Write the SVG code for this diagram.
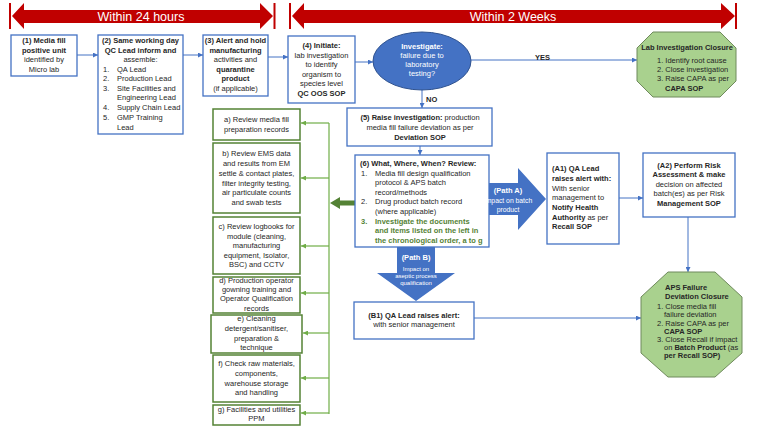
<svg xmlns="http://www.w3.org/2000/svg" width="768" height="433" viewBox="0 0 768 433">
<defs>
<style>
.bb{fill:#fff;stroke:#4472C4;stroke-width:1.3}
.gb{fill:#fff;stroke:#548235;stroke-width:1.5}
.oct{fill:#A9D18E;stroke:#6F8A5C;stroke-width:1}
text{font-family:"Liberation Sans",Arial,sans-serif;font-size:7.5px;fill:#262626}
.b{font-weight:bold}
.c{text-anchor:middle}
.w{fill:#fff}
.s{font-size:6px}
.g{fill:#548235;font-weight:bold}
.red{fill:#C00000}
.big{font-size:12.5px;fill:#fff}
.conn{stroke:#4472C4;stroke-width:1;fill:none;marker-end:url(#ab)}
.gconn{stroke:#70AD47;stroke-width:1.2;fill:none;marker-end:url(#ag)}
.blk{fill:#4472C4}
</style>
<marker id="ab" viewBox="0 0 6 6" refX="6" refY="3" markerWidth="5" markerHeight="5" markerUnits="userSpaceOnUse" orient="auto"><path d="M0,0 L6,3 L0,6 z" fill="#4472C4"/></marker>
<marker id="ag" viewBox="0 0 6 6" refX="6" refY="3" markerWidth="5" markerHeight="5" markerUnits="userSpaceOnUse" orient="auto"><path d="M0,0 L6,3 L0,6 z" fill="#70AD47"/></marker>
</defs>
<rect width="768" height="433" fill="#fff"/>

<g id="timeline24">
<rect class="red" x="9" y="3" width="2" height="26"/>
<rect class="red" x="273.5" y="3" width="2" height="26"/>
<polygon class="red" points="12,16 24,3 24,10 260,10 260,3 273,16 260,29 260,23 24,23 24,29"/>
<text class="big c" x="141" y="20.5">Within 24 hours</text>
</g>
<g id="timeline2w">
<rect class="red" x="289" y="3" width="2" height="26"/>
<rect class="red" x="735" y="3" width="2" height="26"/>
<polygon class="red" points="292,16 304,3 304,10 721,10 721,3 735,16 721,29 721,23 304,23 304,29"/>
<text class="big c" x="513" y="20.5">Within 2 Weeks</text>
</g>

<g id="connectors">
<line class="conn" x1="77" y1="55" x2="98" y2="55"/>
<line class="conn" x1="183" y1="55" x2="203" y2="55"/>
<line class="conn" x1="268" y1="57" x2="288" y2="57"/>
<line class="conn" x1="355" y1="62" x2="373" y2="62"/>
<line class="conn" x1="471" y1="60" x2="637" y2="60"/>
<text class="b" x="535" y="60">YES</text>
<line class="conn" x1="422" y1="90" x2="422" y2="108"/>
<text class="b" x="426" y="102">NO</text>
<line class="conn" x1="420" y1="146" x2="420" y2="155"/>
<line class="conn" x1="619" y1="198" x2="643" y2="198"/>
<line class="conn" x1="688" y1="217" x2="688" y2="272"/>
<line class="conn" x1="474" y1="318" x2="641" y2="318"/>
<line stroke="#70AD47" stroke-width="1.2" x1="329" y1="123" x2="329" y2="414"/>
<line class="gconn" x1="329" y1="123" x2="301" y2="123"/>
<line class="gconn" x1="329" y1="178" x2="301" y2="178"/>
<line class="gconn" x1="329" y1="246" x2="301" y2="246"/>
<line class="gconn" x1="329" y1="293" x2="301" y2="293"/>
<line class="gconn" x1="329" y1="333" x2="303" y2="333"/>
<line class="gconn" x1="329" y1="378" x2="301" y2="378"/>
<line class="gconn" x1="329" y1="413" x2="301" y2="413"/>
<polygon fill="#548235" points="330,203 340,197 340,200.5 355,200.5 355,205.5 340,205.5 340,209"/>
</g>

<g id="n1">
<rect class="bb" x="11" y="35" width="66" height="41"/>
<text class="c b" x="44" y="43">(1) Media fill</text>
<text class="c b" x="44" y="52.5">positive unit</text>
<text class="c" x="44" y="62">identified by</text>
<text class="c" x="44" y="71.5">Micro lab</text>
</g>

<g id="n2">
<rect class="bb" x="98" y="35" width="85" height="99"/>
<text class="c b" x="140.5" y="43">(2) Same working day</text>
<text class="c b" x="140.5" y="52.5">QC Lead inform and</text>
<text class="c" x="140.5" y="62">assemble:</text>
<text x="103" y="71.5">1.</text><text x="117" y="71.5">QA Lead</text>
<text x="103" y="81">2.</text><text x="117" y="81">Production Lead</text>
<text x="103" y="90.5">3.</text><text x="117" y="90.5">Site Facilities and</text>
<text x="117" y="100">Engineering Lead</text>
<text x="103" y="110">4.</text><text x="117" y="110">Supply Chain Lead</text>
<text x="103" y="120">5.</text><text x="117" y="120">GMP Training</text>
<text x="117" y="129.5">Lead</text>
</g>

<g id="n3">
<rect class="bb" x="203" y="35" width="65" height="61"/>
<text class="c b" x="235.5" y="43">(3) Alert and hold</text>
<text class="c b" x="235.5" y="52.5">manufacturing</text>
<text class="c" x="235.5" y="62">activities and</text>
<text class="c b" x="235.5" y="71.5">quarantine</text>
<text class="c b" x="235.5" y="81">product</text>
<text class="c" x="235.5" y="90.5">(if applicable)</text>
</g>

<g id="n4">
<rect class="bb" x="288" y="36" width="67" height="67"/>
<text class="c b" x="321.5" y="48">(4) Initiate:</text>
<text class="c" x="321.5" y="57.5">lab investigation</text>
<text class="c" x="321.5" y="67">to identify</text>
<text class="c" x="321.5" y="76.5">organism to</text>
<text class="c" x="321.5" y="86">species level</text>
<text class="c b" x="321.5" y="95.5">QC OOS SOP</text>
</g>

<g id="decision">
<ellipse cx="422" cy="61" rx="49" ry="29" fill="#4472C4" stroke="#2F528F" stroke-width="1"/>
<text class="c b w" x="422" y="49">Investigate:</text>
<text class="c w" x="422" y="58">failure due to</text>
<text class="c w" x="422" y="67">laboratory</text>
<text class="c w" x="422" y="76">testing?</text>
</g>

<g id="labClosure">
<polygon class="oct" points="653,32 720,32 736,48 736,81 720,97 653,97 637,81 637,48"/>
<text class="c b" x="687" y="50">Lab Investigation  Closure</text>
<text x="657" y="63">1. Identify root cause</text>
<text x="657" y="72">2. Close investigation</text>
<text x="657" y="81">3. Raise CAPA as per</text>
<text class="b" x="665" y="91">CAPA SOP</text>
</g>

<g id="n5">
<rect class="bb" x="347" y="108" width="145" height="38"/>
<text class="c" x="420" y="120"><tspan class="b">(5) Raise investigation:</tspan>  production</text>
<text class="c" x="420" y="130">media fill failure deviation as per</text>
<text class="c b" x="420" y="140">Deviation SOP</text>
</g>

<g id="n6">
<rect class="bb" x="355" y="155" width="134" height="92"/>
<text class="b" x="360" y="166">(6) What, Where, When? Review:</text>
<text x="361" y="175.5">1.</text><text x="375" y="175.5">Media fill design qualification</text>
<text x="375" y="185">protocol &amp; APS batch</text>
<text x="375" y="194.5">record/methods</text>
<text x="361" y="204">2.</text><text x="375" y="204">Drug product batch record</text>
<text x="375" y="214">(where applicable)</text>
<text class="g" x="361" y="223.5">3.</text><text class="g" x="375" y="223.5">Investigate the documents</text>
<text class="g" x="375" y="233">and items listed on the left in</text>
<text class="g" x="375" y="242.5">the chronological  order, a to g</text>
</g>

<g id="pathA">
<polygon class="blk" points="489,183 518,183 518,168 546,199 518,230 518,215 489,215"/>
<text class="c b w" x="508" y="193">(Path A)</text>
<text class="c w" x="508" y="202.5" style="font-size:6.8px">Impact on batch</text>
<text class="c w" x="508" y="212" style="font-size:6.8px">product</text>
</g>

<g id="pathB">
<polygon class="blk" points="397,247 435,247 435,273 455,273 416,301 377,273 397,273"/>
<text class="c b w" x="416" y="260">(Path B)</text>
<text class="c w s" x="416" y="270.5">Impact on</text>
<text class="c w s" x="416" y="277.5">aseptic process</text>
<text class="c w s" x="416" y="284.5">qualification</text>
</g>

<g id="nA1">
<rect class="bb" x="547" y="153" width="72" height="91"/>
<text class="b" x="552" y="171">(A1) QA Lead</text>
<text class="b" x="552" y="181">raises alert with:</text>
<text x="552" y="191">With senior</text>
<text x="552" y="200">management to</text>
<text class="b" x="552" y="210">Notify Health</text>
<text x="552" y="219.5"><tspan class="b">Authority</tspan> as per</text>
<text class="b" x="552" y="229">Recall  SOP</text>
</g>

<g id="nA2">
<rect class="bb" x="643" y="153" width="92" height="64"/>
<text class="c b" x="689" y="168">(A2) Perform Risk</text>
<text class="c b" x="689" y="177">Assessment &amp; make</text>
<text class="c" x="689" y="186.5">decision on affected</text>
<text class="c" x="689" y="196">batch(es) as per Risk</text>
<text class="c b" x="689" y="205.5">Management SOP</text>
</g>

<g id="nB1">
<rect class="bb" x="354" y="302" width="120" height="37"/>
<text class="c b" x="414" y="318">(B1) QA Lead raises alert:</text>
<text class="c" x="414" y="327">with senior management</text>
</g>

<g id="apsClosure">
<polygon class="oct" points="668,272 715,272 742,297 742,353 715,377 668,377 641,353 641,297"/>
<text class="b" x="665" y="290">APS Failure</text>
<text class="b" x="665" y="298.5">Deviation  Closure</text>
<text x="657" y="309">1. Close media fill</text>
<text x="664" y="316.5">failure deviation</text>
<text x="657" y="326">2. Raise CAPA as per</text>
<text class="b" x="664" y="333.5">CAPA SOP</text>
<text x="657" y="342">3. Close Recall if impact</text>
<text x="664" y="350">on <tspan class="b">Batch Product</tspan> (as</text>
<text class="b" x="664" y="358">per Recall  SOP)</text>
</g>

<g id="ga">
<rect class="gb" x="213" y="109" width="87" height="31"/>
<text class="c" x="256.5" y="121.5">a) Review media fill</text>
<text class="c" x="256.5" y="131.5">preparation records</text>
</g>
<g id="gb">
<rect class="gb" x="213" y="143" width="87" height="70"/>
<text class="c" x="256.5" y="156">b) Review EMS data</text>
<text class="c" x="256.5" y="166">and results from EM</text>
<text class="c" x="256.5" y="176">settle &amp; contact plates,</text>
<text class="c" x="256.5" y="185.5">filter integrity testing,</text>
<text class="c" x="256.5" y="195">air particulate counts</text>
<text class="c" x="256.5" y="205">and swab tests</text>
</g>
<g id="gc">
<rect class="gb" x="213" y="217" width="87" height="57"/>
<text class="c" x="256.5" y="229">c) Review logbooks for</text>
<text class="c" x="256.5" y="238.5">module (cleaning,</text>
<text class="c" x="256.5" y="248">manufacturing</text>
<text class="c" x="256.5" y="257.5">equipment, Isolator,</text>
<text class="c" x="256.5" y="267">BSC) and CCTV</text>
</g>
<g id="gd">
<rect class="gb" x="213" y="277" width="87" height="36"/>
<text class="c" x="256.5" y="283">d) Production operator</text>
<text class="c" x="256.5" y="292">gowning training and</text>
<text class="c" x="256.5" y="301">Operator Qualification</text>
<text class="c" x="256.5" y="310.5">records</text>
</g>
<g id="ge">
<rect class="gb" x="211" y="315" width="91" height="38"/>
<text class="c" x="256.5" y="321">e) Cleaning</text>
<text class="c" x="256.5" y="331">detergent/sanitiser,</text>
<text class="c" x="256.5" y="340.5">preparation &amp;</text>
<text class="c" x="256.5" y="350">technique</text>
</g>
<g id="gf">
<rect class="gb" x="213" y="355" width="87" height="47"/>
<text class="c" x="256.5" y="366">f) Check raw materials,</text>
<text class="c" x="256.5" y="375.5">components,</text>
<text class="c" x="256.5" y="385.5">warehouse storage</text>
<text class="c" x="256.5" y="395">and handling</text>
</g>
<g id="gg">
<rect class="gb" x="213" y="405" width="87" height="20"/>
<text class="c" x="256.5" y="411.5">g) Facilities and utilities</text>
<text class="c" x="256.5" y="421">PPM</text>
</g>
</svg>
